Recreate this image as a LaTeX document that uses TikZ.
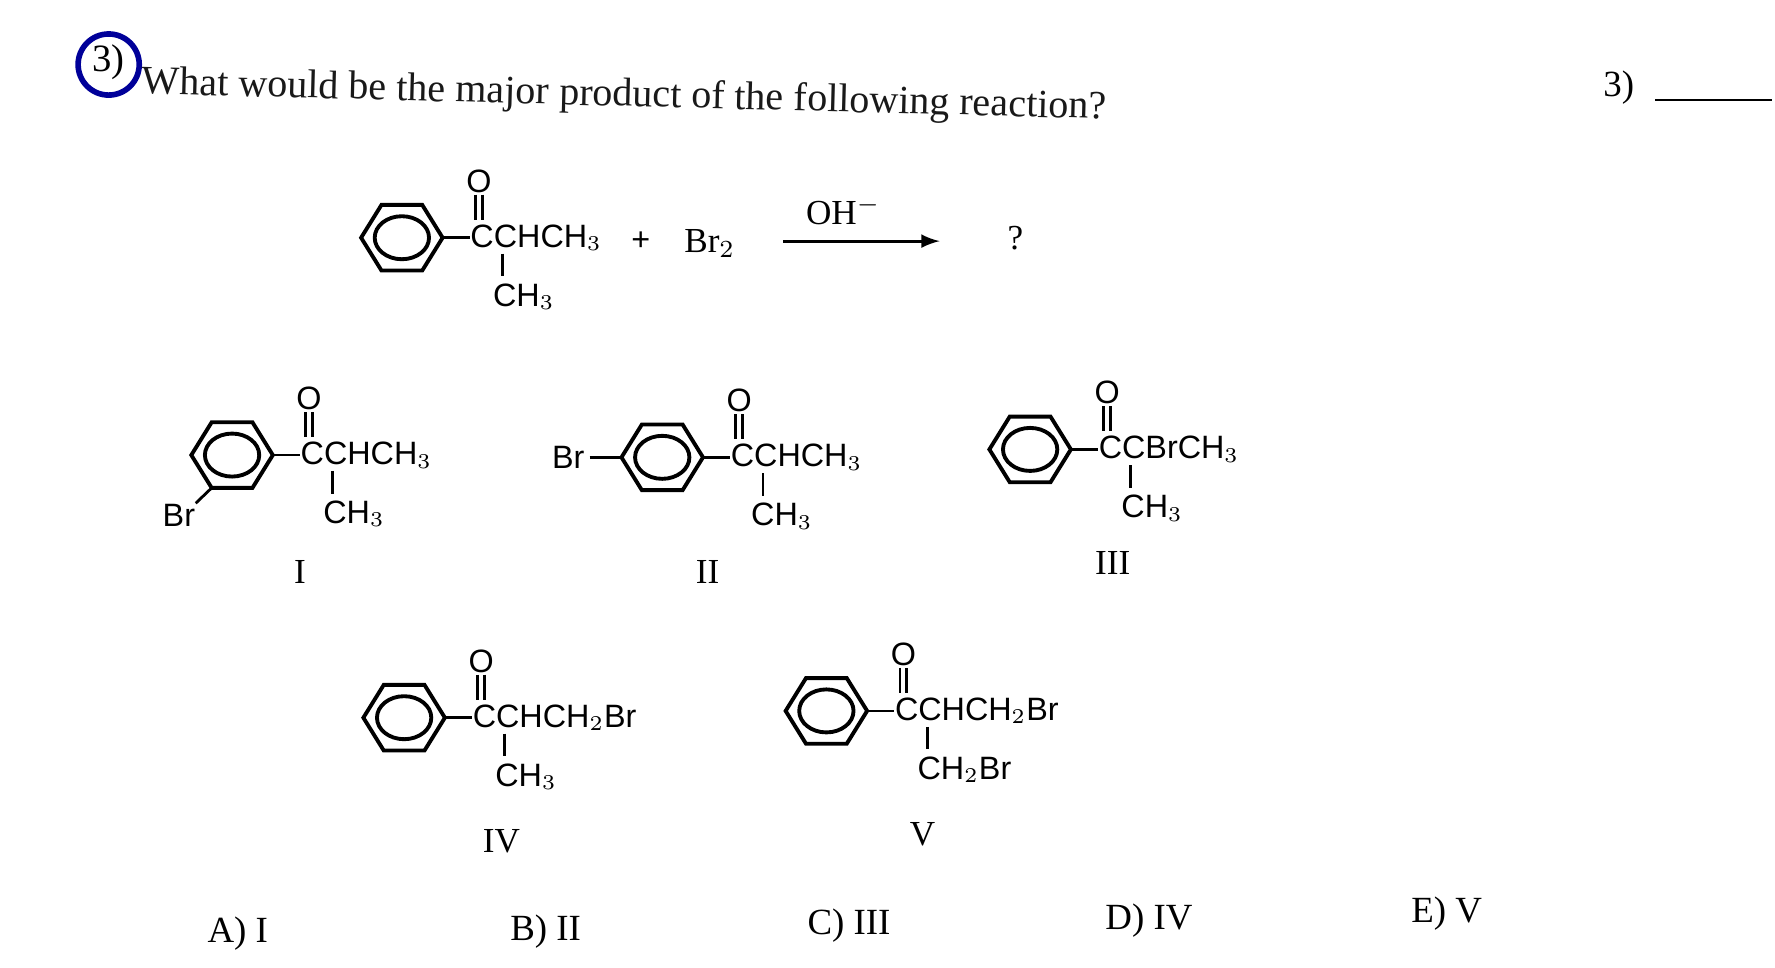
\documentclass[tikz,border=0pt]{standalone}
\usepackage{fontspec}
\setmainfont{Liberation Serif}
\newfontfamily\chemf{Liberation Sans}
\begin{document}
\begin{tikzpicture}[x=0.01132cm,y=-0.01132cm,
  chem/.style={font=\chemf\fontsize{9.2}{10}\selectfont,inner sep=0pt},
  lab/.style={font=\fontsize{10}{11}\selectfont,inner sep=0pt},
  bond/.style={line width=0.8pt}]
\useasboundingbox (0,0) rectangle (1568,855);
\newcommand\benz[3]{%
  \coordinate (#1) at (#2,#3);
  \draw[line width=1.1pt] (#2+36,#3) -- (#2+18,#3-29) -- (#2-18,#3-29) -- (#2-36,#3) -- (#2-18,#3+29) -- (#2+18,#3+29) -- cycle;
  \draw[line width=1.1pt] (#2,#3) ellipse [x radius=24, y radius=19];}
\newcommand\keto[6]{%
  \benz{#1r}{#2}{#3}
  \node[chem,anchor=west] (#1t) at (#2+60,#3) {#4};
  \draw[bond] (#2+36,#3) -- (#1t.west);
  \node[chem] (#1o) at (#2+68,#3-50) {O};
  \draw[bond] (#2+65,#3-38) -- (#2+65,#3-16) (#2+71,#3-38) -- (#2+71,#3-16);
  \draw[bond] (#2+89,#3+14) -- (#2+89,#3+34);
  \node[chem,anchor=west] (#1s) at (#2+#6,#3+52) {#5};}
% title
\draw[blue!60!black,line width=1.6pt] (96,57) circle (27);
\node[lab,font=\fontsize{11}{12}\selectfont] (num) at (96,55) {3)};
\node[lab,anchor=west,rotate=-1.5,font=\fontsize{11.4}{12}\selectfont,text=black!90] (q) at (125,74) {What would be the major product of the following reaction?};
\node[lab,font=\fontsize{10.5}{11}\selectfont] (num2) at (1430,77) {3)};
\coordinate (l1) at (1462,88); \coordinate (l2) at (1565,88);
\draw[line width=0.6pt] (l1) -- (l2);
% reaction
\keto{r}{355}{210}{CCHCH$_3$}{CH$_3$}{80}
\node[chem] (plus) at (566,213) {+};
\node[lab] (br2) at (627,215) {Br$_2$};
\coordinate (a1) at (692,213); \coordinate (a2) at (830,213);
\draw[line width=0.8pt,-latex] (a1) -- (a2);
\node[lab] (oh) at (745,186) {OH$^{-}$};
\node[lab] (qm) at (897,210) {?};
% I
\keto{i}{205}{402}{CCHCH$_3$}{CH$_3$}{80}
\node[chem] (ibr) at (158,455) {Br};
\draw[bond] (187,431) -- (ibr.north east);
\node[lab] (iI) at (265,505) {I};
% II
\keto{ii}{585}{404}{CCHCH$_3$}{CH$_3$}{78}
\node[chem] (iibr) at (502,404) {Br};
\draw[bond] (iibr.east) ++(4,0) -- (549,404);
\node[lab] (iiI) at (625,505) {II};
% III
\keto{iii}{910}{397}{CCBrCH$_3$}{CH$_3$}{80}
\node[lab] (iiiI) at (983,497) {III};
% IV
\keto{iv}{357}{634}{CCHCH$_2$Br}{CH$_3$}{80}
\node[lab] (ivI) at (443,743) {IV};
% V
\keto{v}{730}{628}{CCHCH$_2$Br}{CH$_2$Br}{80}
\node[lab] (vI) at (815,737) {V};
% answers
\node[lab,font=\fontsize{10.5}{11}\selectfont] (A) at (210,825) {A) I};
\node[lab,font=\fontsize{10.5}{11}\selectfont] (B) at (482,823) {B) II};
\node[lab,font=\fontsize{10.5}{11}\selectfont] (C) at (750,818) {C) III};
\node[lab,font=\fontsize{10.5}{11}\selectfont] (D) at (1015,813) {D) IV};
\node[lab,font=\fontsize{10.5}{11}\selectfont] (E) at (1278,807) {E) V};
\end{tikzpicture}
\end{document}
